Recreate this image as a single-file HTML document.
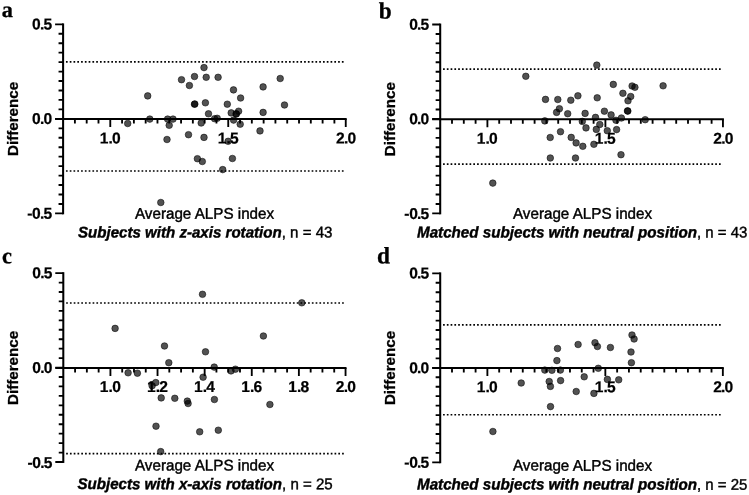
<!DOCTYPE html>
<html lang="en">
<head>
<meta charset="utf-8">
<title>Bland-Altman plots of ALPS index</title>
<style>
html,body{margin:0;padding:0;background:#fff;}
body{width:749px;height:495px;overflow:hidden;}
svg{display:block;}
text{fill:#000;}
</style>
</head>
<body>
<svg width="749" height="495" viewBox="0 0 749 495">
<rect width="749" height="495" fill="#fff"/>
<g id="panel-a">
<text transform="translate(1.70,17.00) rotate(0.03) scale(1.0,1.0)" font-weight="bold" font-family='"Liberation Serif", "Times New Roman", serif' font-size="22.3" stroke="#000" stroke-width="0.3">a</text>
<line x1="65.95" y1="61.8" x2="345.60" y2="61.8" stroke="#000" stroke-width="1.7" stroke-dasharray="1.7 2.08"/>
<line x1="65.95" y1="171.0" x2="345.60" y2="171.0" stroke="#000" stroke-width="1.7" stroke-dasharray="1.7 2.08"/>
<path d="M63.1,23.38V214.33" stroke="#000" stroke-width="2.05" fill="none"/>
<path d="M63.1,24.30h-8.0M63.1,33.76h-4.55M63.1,43.21h-4.55M63.1,52.66h-4.55M63.1,62.12h-4.55M63.1,71.58h-4.55M63.1,81.03h-4.55M63.1,90.48h-4.55M63.1,99.94h-4.55M63.1,109.39h-4.55M63.1,118.85h-8.0M63.1,128.31h-4.55M63.1,137.76h-4.55M63.1,147.22h-4.55M63.1,156.67h-4.55M63.1,166.12h-4.55M63.1,175.58h-4.55M63.1,185.03h-4.55M63.1,194.49h-4.55M63.1,203.95h-4.55M63.1,213.40h-8.0" stroke="#000" stroke-width="1.85" fill="none"/>
<path d="M55.1,118.9H346.70" stroke="#000" stroke-width="2.05" fill="none"/>
<path d="M74.90,118.9v4.55M86.69,118.9v4.55M98.49,118.9v4.55M110.28,118.9v8.0M122.08,118.9v4.55M133.88,118.9v4.55M145.67,118.9v4.55M157.47,118.9v4.55M169.26,118.9v4.55M181.06,118.9v4.55M192.85,118.9v4.55M204.65,118.9v4.55M216.45,118.9v4.55M228.24,118.9v8.0M240.04,118.9v4.55M251.83,118.9v4.55M263.63,118.9v4.55M275.43,118.9v4.55M287.22,118.9v4.55M299.02,118.9v4.55M310.81,118.9v4.55M322.61,118.9v4.55M334.40,118.9v4.55M345.75,118.9v8.0" stroke="#000" stroke-width="1.85" fill="none"/>
<circle cx="204.0" cy="67.6" r="3.3" fill="#000" fill-opacity="0.68" stroke="#000" stroke-opacity="0.74" stroke-width="0.7"/>
<circle cx="194.5" cy="76.5" r="3.3" fill="#000" fill-opacity="0.68" stroke="#000" stroke-opacity="0.74" stroke-width="0.7"/>
<circle cx="206.2" cy="77.3" r="3.3" fill="#000" fill-opacity="0.68" stroke="#000" stroke-opacity="0.74" stroke-width="0.7"/>
<circle cx="218.1" cy="77.3" r="3.3" fill="#000" fill-opacity="0.68" stroke="#000" stroke-opacity="0.74" stroke-width="0.7"/>
<circle cx="181.5" cy="79.7" r="3.3" fill="#000" fill-opacity="0.68" stroke="#000" stroke-opacity="0.74" stroke-width="0.7"/>
<circle cx="189.4" cy="85.5" r="3.3" fill="#000" fill-opacity="0.68" stroke="#000" stroke-opacity="0.74" stroke-width="0.7"/>
<circle cx="147.7" cy="95.9" r="3.3" fill="#000" fill-opacity="0.68" stroke="#000" stroke-opacity="0.74" stroke-width="0.7"/>
<circle cx="194.5" cy="104.2" r="3.3" fill="#000" fill-opacity="0.68" stroke="#000" stroke-opacity="0.74" stroke-width="0.7"/>
<circle cx="194.8" cy="104.0" r="3.3" fill="#000" fill-opacity="0.68" stroke="#000" stroke-opacity="0.74" stroke-width="0.7"/>
<circle cx="205.4" cy="102.8" r="3.3" fill="#000" fill-opacity="0.68" stroke="#000" stroke-opacity="0.74" stroke-width="0.7"/>
<circle cx="227.3" cy="104.2" r="3.3" fill="#000" fill-opacity="0.68" stroke="#000" stroke-opacity="0.74" stroke-width="0.7"/>
<circle cx="208.5" cy="113.8" r="3.3" fill="#000" fill-opacity="0.68" stroke="#000" stroke-opacity="0.74" stroke-width="0.7"/>
<circle cx="149.8" cy="119.1" r="3.3" fill="#000" fill-opacity="0.68" stroke="#000" stroke-opacity="0.74" stroke-width="0.7"/>
<circle cx="167.6" cy="119.1" r="3.3" fill="#000" fill-opacity="0.68" stroke="#000" stroke-opacity="0.74" stroke-width="0.7"/>
<circle cx="173.0" cy="119.1" r="3.3" fill="#000" fill-opacity="0.68" stroke="#000" stroke-opacity="0.74" stroke-width="0.7"/>
<circle cx="127.7" cy="123.5" r="3.3" fill="#000" fill-opacity="0.68" stroke="#000" stroke-opacity="0.74" stroke-width="0.7"/>
<circle cx="169.2" cy="125.3" r="3.3" fill="#000" fill-opacity="0.68" stroke="#000" stroke-opacity="0.74" stroke-width="0.7"/>
<circle cx="201.2" cy="123.0" r="3.3" fill="#000" fill-opacity="0.68" stroke="#000" stroke-opacity="0.74" stroke-width="0.7"/>
<circle cx="214.6" cy="118.7" r="3.3" fill="#000" fill-opacity="0.68" stroke="#000" stroke-opacity="0.74" stroke-width="0.7"/>
<circle cx="217.2" cy="118.3" r="3.3" fill="#000" fill-opacity="0.68" stroke="#000" stroke-opacity="0.74" stroke-width="0.7"/>
<circle cx="188.5" cy="134.7" r="3.3" fill="#000" fill-opacity="0.68" stroke="#000" stroke-opacity="0.74" stroke-width="0.7"/>
<circle cx="204.0" cy="137.4" r="3.3" fill="#000" fill-opacity="0.68" stroke="#000" stroke-opacity="0.74" stroke-width="0.7"/>
<circle cx="167.0" cy="139.5" r="3.3" fill="#000" fill-opacity="0.68" stroke="#000" stroke-opacity="0.74" stroke-width="0.7"/>
<circle cx="280.2" cy="78.5" r="3.3" fill="#000" fill-opacity="0.68" stroke="#000" stroke-opacity="0.74" stroke-width="0.7"/>
<circle cx="263.1" cy="86.9" r="3.3" fill="#000" fill-opacity="0.68" stroke="#000" stroke-opacity="0.74" stroke-width="0.7"/>
<circle cx="233.5" cy="89.9" r="3.3" fill="#000" fill-opacity="0.68" stroke="#000" stroke-opacity="0.74" stroke-width="0.7"/>
<circle cx="240.6" cy="98.0" r="3.3" fill="#000" fill-opacity="0.68" stroke="#000" stroke-opacity="0.74" stroke-width="0.7"/>
<circle cx="284.5" cy="105.0" r="3.3" fill="#000" fill-opacity="0.68" stroke="#000" stroke-opacity="0.74" stroke-width="0.7"/>
<circle cx="238.6" cy="111.2" r="3.3" fill="#000" fill-opacity="0.68" stroke="#000" stroke-opacity="0.74" stroke-width="0.7"/>
<circle cx="231.2" cy="112.9" r="3.3" fill="#000" fill-opacity="0.68" stroke="#000" stroke-opacity="0.74" stroke-width="0.7"/>
<circle cx="236.2" cy="113.8" r="3.3" fill="#000" fill-opacity="0.68" stroke="#000" stroke-opacity="0.74" stroke-width="0.7"/>
<circle cx="236.3" cy="114.0" r="3.3" fill="#000" fill-opacity="0.68" stroke="#000" stroke-opacity="0.74" stroke-width="0.7"/>
<circle cx="263.1" cy="112.4" r="3.3" fill="#000" fill-opacity="0.68" stroke="#000" stroke-opacity="0.74" stroke-width="0.7"/>
<circle cx="233.6" cy="120.1" r="3.3" fill="#000" fill-opacity="0.68" stroke="#000" stroke-opacity="0.74" stroke-width="0.7"/>
<circle cx="240.2" cy="124.2" r="3.3" fill="#000" fill-opacity="0.68" stroke="#000" stroke-opacity="0.74" stroke-width="0.7"/>
<circle cx="260.0" cy="130.9" r="3.3" fill="#000" fill-opacity="0.68" stroke="#000" stroke-opacity="0.74" stroke-width="0.7"/>
<circle cx="228.1" cy="141.3" r="3.3" fill="#000" fill-opacity="0.68" stroke="#000" stroke-opacity="0.74" stroke-width="0.7"/>
<circle cx="197.4" cy="158.7" r="3.3" fill="#000" fill-opacity="0.68" stroke="#000" stroke-opacity="0.74" stroke-width="0.7"/>
<circle cx="202.3" cy="161.5" r="3.3" fill="#000" fill-opacity="0.68" stroke="#000" stroke-opacity="0.74" stroke-width="0.7"/>
<circle cx="232.4" cy="158.5" r="3.3" fill="#000" fill-opacity="0.68" stroke="#000" stroke-opacity="0.74" stroke-width="0.7"/>
<circle cx="222.7" cy="169.6" r="3.3" fill="#000" fill-opacity="0.68" stroke="#000" stroke-opacity="0.74" stroke-width="0.7"/>
<circle cx="160.8" cy="202.5" r="3.3" fill="#000" fill-opacity="0.68" stroke="#000" stroke-opacity="0.74" stroke-width="0.7"/>
<text transform="translate(52.20,29.50) rotate(0.03) scale(1.04,1.05)" text-anchor="end" font-weight="bold" font-family='"Liberation Sans", Arial, Helvetica, sans-serif' font-size="15" stroke="#000" stroke-width="0.22" dx="0 -0.75 -0.75">0.5</text>
<text transform="translate(52.20,124.10) rotate(0.03) scale(1.04,1.05)" text-anchor="end" font-weight="bold" font-family='"Liberation Sans", Arial, Helvetica, sans-serif' font-size="15" stroke="#000" stroke-width="0.22" dx="0 -0.75 -0.75">0.0</text>
<text transform="translate(52.20,218.70) rotate(0.03) scale(1.04,1.05)" text-anchor="end" font-weight="bold" font-family='"Liberation Sans", Arial, Helvetica, sans-serif' font-size="15" stroke="#000" stroke-width="0.22" dx="0 -0.3 -0.75 -0.75">-0.5</text>
<text transform="translate(110.18,143.50) rotate(0.03) scale(1.04,1.05)" text-anchor="middle" font-weight="bold" font-family='"Liberation Sans", Arial, Helvetica, sans-serif' font-size="15" stroke="#000" stroke-width="0.22" dx="0 0.1 -0.75">1.0</text>
<text transform="translate(228.14,143.50) rotate(0.03) scale(1.04,1.05)" text-anchor="middle" font-weight="bold" font-family='"Liberation Sans", Arial, Helvetica, sans-serif' font-size="15" stroke="#000" stroke-width="0.22" dx="0 0.1 -0.75">1.5</text>
<text transform="translate(346.10,143.50) rotate(0.03) scale(1.04,1.05)" text-anchor="middle" font-weight="bold" font-family='"Liberation Sans", Arial, Helvetica, sans-serif' font-size="15" stroke="#000" stroke-width="0.22" dx="0 -0.75 -0.75">2.0</text>
<text transform="translate(17.80,118.90) rotate(-90) scale(1.014,0.96)" text-anchor="middle" font-weight="bold" font-family='"Liberation Sans", Arial, Helvetica, sans-serif' font-size="15" stroke="#000" stroke-width="0.32">Difference</text>
<text transform="translate(135.00,218.70) rotate(0.03) scale(1.0,1.02)" font-family='"Liberation Sans", Arial, Helvetica, sans-serif' font-size="15.2" stroke="#000" stroke-width="0.4">Average ALPS index</text>
<text transform="translate(78.00,237.40) rotate(0.03) scale(1.0,1.03)" font-family='"Liberation Sans", Arial, Helvetica, sans-serif' font-size="15.1" stroke="#000" stroke-width="0.4"><tspan font-weight="bold" font-style="italic" font-size="15.1">Subjects with z-axis rotation</tspan>, n = 43</text>
</g>
<g id="panel-b">
<text transform="translate(378.70,18.50) rotate(0.03) scale(1.0,1.0)" font-weight="bold" font-family='"Liberation Serif", "Times New Roman", serif' font-size="23.3" stroke="#000" stroke-width="0.3">b</text>
<line x1="443.05" y1="69.2" x2="722.80" y2="69.2" stroke="#000" stroke-width="1.7" stroke-dasharray="1.7 2.08"/>
<line x1="443.05" y1="164.1" x2="722.80" y2="164.1" stroke="#000" stroke-width="1.7" stroke-dasharray="1.7 2.08"/>
<path d="M440.2,23.57V214.33" stroke="#000" stroke-width="2.05" fill="none"/>
<path d="M440.2,24.50h-8.0M440.2,33.95h-4.55M440.2,43.39h-4.55M440.2,52.84h-4.55M440.2,62.28h-4.55M440.2,71.72h-4.55M440.2,81.17h-4.55M440.2,90.61h-4.55M440.2,100.06h-4.55M440.2,109.51h-4.55M440.2,118.95h-8.0M440.2,128.40h-4.55M440.2,137.84h-4.55M440.2,147.29h-4.55M440.2,156.73h-4.55M440.2,166.18h-4.55M440.2,175.62h-4.55M440.2,185.06h-4.55M440.2,194.51h-4.55M440.2,203.95h-4.55M440.2,213.40h-8.0" stroke="#000" stroke-width="1.85" fill="none"/>
<path d="M432.2,119.15H723.90" stroke="#000" stroke-width="2.05" fill="none"/>
<path d="M452.00,119.15v4.55M463.80,119.15v4.55M475.60,119.15v4.55M487.40,119.15v8.0M499.20,119.15v4.55M511.00,119.15v4.55M522.80,119.15v4.55M534.60,119.15v4.55M546.40,119.15v4.55M558.20,119.15v4.55M570.00,119.15v4.55M581.80,119.15v4.55M593.60,119.15v4.55M605.40,119.15v8.0M617.20,119.15v4.55M629.00,119.15v4.55M640.80,119.15v4.55M652.60,119.15v4.55M664.40,119.15v4.55M676.20,119.15v4.55M688.00,119.15v4.55M699.80,119.15v4.55M711.60,119.15v4.55M722.95,119.15v8.0" stroke="#000" stroke-width="1.85" fill="none"/>
<circle cx="596.8" cy="65.1" r="3.3" fill="#000" fill-opacity="0.68" stroke="#000" stroke-opacity="0.74" stroke-width="0.7"/>
<circle cx="525.8" cy="76.3" r="3.3" fill="#000" fill-opacity="0.68" stroke="#000" stroke-opacity="0.74" stroke-width="0.7"/>
<circle cx="613.3" cy="84.4" r="3.3" fill="#000" fill-opacity="0.68" stroke="#000" stroke-opacity="0.74" stroke-width="0.7"/>
<circle cx="632.1" cy="86.0" r="3.3" fill="#000" fill-opacity="0.68" stroke="#000" stroke-opacity="0.74" stroke-width="0.7"/>
<circle cx="634.9" cy="87.3" r="3.3" fill="#000" fill-opacity="0.68" stroke="#000" stroke-opacity="0.74" stroke-width="0.7"/>
<circle cx="663.1" cy="85.8" r="3.3" fill="#000" fill-opacity="0.68" stroke="#000" stroke-opacity="0.74" stroke-width="0.7"/>
<circle cx="622.9" cy="93.3" r="3.3" fill="#000" fill-opacity="0.68" stroke="#000" stroke-opacity="0.74" stroke-width="0.7"/>
<circle cx="630.7" cy="96.5" r="3.3" fill="#000" fill-opacity="0.68" stroke="#000" stroke-opacity="0.74" stroke-width="0.7"/>
<circle cx="628.0" cy="100.8" r="3.3" fill="#000" fill-opacity="0.68" stroke="#000" stroke-opacity="0.74" stroke-width="0.7"/>
<circle cx="577.9" cy="95.8" r="3.3" fill="#000" fill-opacity="0.68" stroke="#000" stroke-opacity="0.74" stroke-width="0.7"/>
<circle cx="597.2" cy="97.8" r="3.3" fill="#000" fill-opacity="0.68" stroke="#000" stroke-opacity="0.74" stroke-width="0.7"/>
<circle cx="545.5" cy="99.4" r="3.3" fill="#000" fill-opacity="0.68" stroke="#000" stroke-opacity="0.74" stroke-width="0.7"/>
<circle cx="557.8" cy="99.5" r="3.3" fill="#000" fill-opacity="0.68" stroke="#000" stroke-opacity="0.74" stroke-width="0.7"/>
<circle cx="570.8" cy="100.2" r="3.3" fill="#000" fill-opacity="0.68" stroke="#000" stroke-opacity="0.74" stroke-width="0.7"/>
<circle cx="559.4" cy="108.7" r="3.3" fill="#000" fill-opacity="0.68" stroke="#000" stroke-opacity="0.74" stroke-width="0.7"/>
<circle cx="556.6" cy="112.4" r="3.3" fill="#000" fill-opacity="0.68" stroke="#000" stroke-opacity="0.74" stroke-width="0.7"/>
<circle cx="567.7" cy="113.7" r="3.3" fill="#000" fill-opacity="0.68" stroke="#000" stroke-opacity="0.74" stroke-width="0.7"/>
<circle cx="585.1" cy="113.4" r="3.3" fill="#000" fill-opacity="0.68" stroke="#000" stroke-opacity="0.74" stroke-width="0.7"/>
<circle cx="604.4" cy="111.2" r="3.3" fill="#000" fill-opacity="0.68" stroke="#000" stroke-opacity="0.74" stroke-width="0.7"/>
<circle cx="627.5" cy="110.9" r="3.3" fill="#000" fill-opacity="0.68" stroke="#000" stroke-opacity="0.74" stroke-width="0.7"/>
<circle cx="627.8" cy="111.1" r="3.3" fill="#000" fill-opacity="0.68" stroke="#000" stroke-opacity="0.74" stroke-width="0.7"/>
<circle cx="611.1" cy="114.9" r="3.3" fill="#000" fill-opacity="0.68" stroke="#000" stroke-opacity="0.74" stroke-width="0.7"/>
<circle cx="621.4" cy="118.0" r="3.3" fill="#000" fill-opacity="0.68" stroke="#000" stroke-opacity="0.74" stroke-width="0.7"/>
<circle cx="595.5" cy="117.4" r="3.3" fill="#000" fill-opacity="0.68" stroke="#000" stroke-opacity="0.74" stroke-width="0.7"/>
<circle cx="544.8" cy="120.9" r="3.3" fill="#000" fill-opacity="0.68" stroke="#000" stroke-opacity="0.74" stroke-width="0.7"/>
<circle cx="582.3" cy="121.4" r="3.3" fill="#000" fill-opacity="0.68" stroke="#000" stroke-opacity="0.74" stroke-width="0.7"/>
<circle cx="616.0" cy="120.3" r="3.3" fill="#000" fill-opacity="0.68" stroke="#000" stroke-opacity="0.74" stroke-width="0.7"/>
<circle cx="645.2" cy="119.7" r="3.3" fill="#000" fill-opacity="0.68" stroke="#000" stroke-opacity="0.74" stroke-width="0.7"/>
<circle cx="599.8" cy="124.5" r="3.3" fill="#000" fill-opacity="0.68" stroke="#000" stroke-opacity="0.74" stroke-width="0.7"/>
<circle cx="586.0" cy="127.9" r="3.3" fill="#000" fill-opacity="0.68" stroke="#000" stroke-opacity="0.74" stroke-width="0.7"/>
<circle cx="596.3" cy="129.4" r="3.3" fill="#000" fill-opacity="0.68" stroke="#000" stroke-opacity="0.74" stroke-width="0.7"/>
<circle cx="607.3" cy="130.7" r="3.3" fill="#000" fill-opacity="0.68" stroke="#000" stroke-opacity="0.74" stroke-width="0.7"/>
<circle cx="616.6" cy="129.6" r="3.3" fill="#000" fill-opacity="0.68" stroke="#000" stroke-opacity="0.74" stroke-width="0.7"/>
<circle cx="560.5" cy="131.7" r="3.3" fill="#000" fill-opacity="0.68" stroke="#000" stroke-opacity="0.74" stroke-width="0.7"/>
<circle cx="550.2" cy="137.5" r="3.3" fill="#000" fill-opacity="0.68" stroke="#000" stroke-opacity="0.74" stroke-width="0.7"/>
<circle cx="571.2" cy="137.4" r="3.3" fill="#000" fill-opacity="0.68" stroke="#000" stroke-opacity="0.74" stroke-width="0.7"/>
<circle cx="576.1" cy="142.9" r="3.3" fill="#000" fill-opacity="0.68" stroke="#000" stroke-opacity="0.74" stroke-width="0.7"/>
<circle cx="582.8" cy="146.3" r="3.3" fill="#000" fill-opacity="0.68" stroke="#000" stroke-opacity="0.74" stroke-width="0.7"/>
<circle cx="593.9" cy="144.3" r="3.3" fill="#000" fill-opacity="0.68" stroke="#000" stroke-opacity="0.74" stroke-width="0.7"/>
<circle cx="550.3" cy="158.0" r="3.3" fill="#000" fill-opacity="0.68" stroke="#000" stroke-opacity="0.74" stroke-width="0.7"/>
<circle cx="575.5" cy="158.0" r="3.3" fill="#000" fill-opacity="0.68" stroke="#000" stroke-opacity="0.74" stroke-width="0.7"/>
<circle cx="621.0" cy="154.7" r="3.3" fill="#000" fill-opacity="0.68" stroke="#000" stroke-opacity="0.74" stroke-width="0.7"/>
<circle cx="492.8" cy="183.1" r="3.3" fill="#000" fill-opacity="0.68" stroke="#000" stroke-opacity="0.74" stroke-width="0.7"/>
<text transform="translate(429.30,29.70) rotate(0.03) scale(1.04,1.05)" text-anchor="end" font-weight="bold" font-family='"Liberation Sans", Arial, Helvetica, sans-serif' font-size="15" stroke="#000" stroke-width="0.22" dx="0 -0.75 -0.75">0.5</text>
<text transform="translate(429.30,124.35) rotate(0.03) scale(1.04,1.05)" text-anchor="end" font-weight="bold" font-family='"Liberation Sans", Arial, Helvetica, sans-serif' font-size="15" stroke="#000" stroke-width="0.22" dx="0 -0.75 -0.75">0.0</text>
<text transform="translate(429.30,219.00) rotate(0.03) scale(1.04,1.05)" text-anchor="end" font-weight="bold" font-family='"Liberation Sans", Arial, Helvetica, sans-serif' font-size="15" stroke="#000" stroke-width="0.22" dx="0 -0.3 -0.75 -0.75">-0.5</text>
<text transform="translate(487.30,143.75) rotate(0.03) scale(1.04,1.05)" text-anchor="middle" font-weight="bold" font-family='"Liberation Sans", Arial, Helvetica, sans-serif' font-size="15" stroke="#000" stroke-width="0.22" dx="0 0.1 -0.75">1.0</text>
<text transform="translate(605.30,143.75) rotate(0.03) scale(1.04,1.05)" text-anchor="middle" font-weight="bold" font-family='"Liberation Sans", Arial, Helvetica, sans-serif' font-size="15" stroke="#000" stroke-width="0.22" dx="0 0.1 -0.75">1.5</text>
<text transform="translate(723.30,143.75) rotate(0.03) scale(1.04,1.05)" text-anchor="middle" font-weight="bold" font-family='"Liberation Sans", Arial, Helvetica, sans-serif' font-size="15" stroke="#000" stroke-width="0.22" dx="0 -0.75 -0.75">2.0</text>
<text transform="translate(394.90,119.15) rotate(-90) scale(1.014,0.96)" text-anchor="middle" font-weight="bold" font-family='"Liberation Sans", Arial, Helvetica, sans-serif' font-size="15" stroke="#000" stroke-width="0.32">Difference</text>
<text transform="translate(513.00,218.70) rotate(0.03) scale(1.0,1.02)" font-family='"Liberation Sans", Arial, Helvetica, sans-serif' font-size="15.2" stroke="#000" stroke-width="0.4">Average ALPS index</text>
<text transform="translate(417.00,237.40) rotate(0.03) scale(1.0,1.03)" font-family='"Liberation Sans", Arial, Helvetica, sans-serif' font-size="15.0" stroke="#000" stroke-width="0.4"><tspan font-weight="bold" font-style="italic" font-size="15.2">Matched subjects with neutral position</tspan>, n = 43</text>
</g>
<g id="panel-c">
<text transform="translate(1.90,263.20) rotate(0.03) scale(1.0,1.0)" font-weight="bold" font-family='"Liberation Serif", "Times New Roman", serif' font-size="22.3" stroke="#000" stroke-width="0.3">c</text>
<line x1="66.15" y1="303.0" x2="345.40" y2="303.0" stroke="#000" stroke-width="1.7" stroke-dasharray="1.7 2.08"/>
<line x1="66.15" y1="453.7" x2="345.40" y2="453.7" stroke="#000" stroke-width="1.7" stroke-dasharray="1.7 2.08"/>
<path d="M63.3,272.18V462.93" stroke="#000" stroke-width="2.05" fill="none"/>
<path d="M63.3,273.10h-8.0M63.3,282.55h-4.55M63.3,291.99h-4.55M63.3,301.44h-4.55M63.3,310.88h-4.55M63.3,320.33h-4.55M63.3,329.77h-4.55M63.3,339.22h-4.55M63.3,348.66h-4.55M63.3,358.11h-4.55M63.3,367.55h-8.0M63.3,377.00h-4.55M63.3,386.44h-4.55M63.3,395.88h-4.55M63.3,405.33h-4.55M63.3,414.77h-4.55M63.3,424.22h-4.55M63.3,433.67h-4.55M63.3,443.11h-4.55M63.3,452.56h-4.55M63.3,462.00h-8.0" stroke="#000" stroke-width="1.85" fill="none"/>
<path d="M55.3,367.9H346.50" stroke="#000" stroke-width="2.05" fill="none"/>
<path d="M75.08,367.9v4.55M86.86,367.9v4.55M98.64,367.9v4.55M110.42,367.9v8.0M122.20,367.9v4.55M133.98,367.9v4.55M145.75,367.9v4.55M157.53,367.9v8.0M169.31,367.9v4.55M181.09,367.9v4.55M192.87,367.9v4.55M204.65,367.9v8.0M216.43,367.9v4.55M228.21,367.9v4.55M239.99,367.9v4.55M251.77,367.9v8.0M263.55,367.9v4.55M275.33,367.9v4.55M287.10,367.9v4.55M298.88,367.9v8.0M310.66,367.9v4.55M322.44,367.9v4.55M334.22,367.9v4.55M345.55,367.9v8.0" stroke="#000" stroke-width="1.85" fill="none"/>
<circle cx="202.5" cy="294.3" r="3.3" fill="#000" fill-opacity="0.68" stroke="#000" stroke-opacity="0.74" stroke-width="0.7"/>
<circle cx="301.8" cy="302.8" r="3.3" fill="#000" fill-opacity="0.68" stroke="#000" stroke-opacity="0.74" stroke-width="0.7"/>
<circle cx="115.1" cy="328.4" r="3.3" fill="#000" fill-opacity="0.68" stroke="#000" stroke-opacity="0.74" stroke-width="0.7"/>
<circle cx="263.4" cy="336.0" r="3.3" fill="#000" fill-opacity="0.68" stroke="#000" stroke-opacity="0.74" stroke-width="0.7"/>
<circle cx="164.5" cy="346.0" r="3.3" fill="#000" fill-opacity="0.68" stroke="#000" stroke-opacity="0.74" stroke-width="0.7"/>
<circle cx="205.5" cy="351.8" r="3.3" fill="#000" fill-opacity="0.68" stroke="#000" stroke-opacity="0.74" stroke-width="0.7"/>
<circle cx="168.8" cy="362.7" r="3.3" fill="#000" fill-opacity="0.68" stroke="#000" stroke-opacity="0.74" stroke-width="0.7"/>
<circle cx="214.2" cy="367.1" r="3.3" fill="#000" fill-opacity="0.68" stroke="#000" stroke-opacity="0.74" stroke-width="0.7"/>
<circle cx="128.1" cy="372.8" r="3.3" fill="#000" fill-opacity="0.68" stroke="#000" stroke-opacity="0.74" stroke-width="0.7"/>
<circle cx="137.4" cy="373.2" r="3.3" fill="#000" fill-opacity="0.68" stroke="#000" stroke-opacity="0.74" stroke-width="0.7"/>
<circle cx="231.0" cy="370.9" r="3.3" fill="#000" fill-opacity="0.68" stroke="#000" stroke-opacity="0.74" stroke-width="0.7"/>
<circle cx="235.4" cy="369.2" r="3.3" fill="#000" fill-opacity="0.68" stroke="#000" stroke-opacity="0.74" stroke-width="0.7"/>
<circle cx="203.1" cy="377.2" r="3.3" fill="#000" fill-opacity="0.68" stroke="#000" stroke-opacity="0.74" stroke-width="0.7"/>
<circle cx="155.8" cy="382.6" r="3.3" fill="#000" fill-opacity="0.68" stroke="#000" stroke-opacity="0.74" stroke-width="0.7"/>
<circle cx="152.1" cy="385.7" r="3.3" fill="#000" fill-opacity="0.68" stroke="#000" stroke-opacity="0.74" stroke-width="0.7"/>
<circle cx="161.2" cy="397.9" r="3.3" fill="#000" fill-opacity="0.68" stroke="#000" stroke-opacity="0.74" stroke-width="0.7"/>
<circle cx="174.8" cy="398.3" r="3.3" fill="#000" fill-opacity="0.68" stroke="#000" stroke-opacity="0.74" stroke-width="0.7"/>
<circle cx="187.3" cy="401.1" r="3.3" fill="#000" fill-opacity="0.68" stroke="#000" stroke-opacity="0.74" stroke-width="0.7"/>
<circle cx="188.1" cy="403.5" r="3.3" fill="#000" fill-opacity="0.68" stroke="#000" stroke-opacity="0.74" stroke-width="0.7"/>
<circle cx="214.4" cy="399.5" r="3.3" fill="#000" fill-opacity="0.68" stroke="#000" stroke-opacity="0.74" stroke-width="0.7"/>
<circle cx="269.9" cy="404.5" r="3.3" fill="#000" fill-opacity="0.68" stroke="#000" stroke-opacity="0.74" stroke-width="0.7"/>
<circle cx="156.0" cy="426.2" r="3.3" fill="#000" fill-opacity="0.68" stroke="#000" stroke-opacity="0.74" stroke-width="0.7"/>
<circle cx="199.7" cy="431.8" r="3.3" fill="#000" fill-opacity="0.68" stroke="#000" stroke-opacity="0.74" stroke-width="0.7"/>
<circle cx="218.3" cy="430.2" r="3.3" fill="#000" fill-opacity="0.68" stroke="#000" stroke-opacity="0.74" stroke-width="0.7"/>
<circle cx="160.7" cy="451.6" r="3.3" fill="#000" fill-opacity="0.68" stroke="#000" stroke-opacity="0.74" stroke-width="0.7"/>
<text transform="translate(52.40,278.30) rotate(0.03) scale(1.04,1.05)" text-anchor="end" font-weight="bold" font-family='"Liberation Sans", Arial, Helvetica, sans-serif' font-size="15" stroke="#000" stroke-width="0.22" dx="0 -0.75 -0.75">0.5</text>
<text transform="translate(52.40,373.10) rotate(0.03) scale(1.04,1.05)" text-anchor="end" font-weight="bold" font-family='"Liberation Sans", Arial, Helvetica, sans-serif' font-size="15" stroke="#000" stroke-width="0.22" dx="0 -0.75 -0.75">0.0</text>
<text transform="translate(52.40,467.90) rotate(0.03) scale(1.04,1.05)" text-anchor="end" font-weight="bold" font-family='"Liberation Sans", Arial, Helvetica, sans-serif' font-size="15" stroke="#000" stroke-width="0.22" dx="0 -0.3 -0.75 -0.75">-0.5</text>
<text transform="translate(110.32,392.10) rotate(0.03) scale(1.04,1.05)" text-anchor="middle" font-weight="bold" font-family='"Liberation Sans", Arial, Helvetica, sans-serif' font-size="15" stroke="#000" stroke-width="0.22" dx="0 0.1 -0.75">1.0</text>
<text transform="translate(157.43,392.10) rotate(0.03) scale(1.04,1.05)" text-anchor="middle" font-weight="bold" font-family='"Liberation Sans", Arial, Helvetica, sans-serif' font-size="15" stroke="#000" stroke-width="0.22" dx="0 0.1 -0.75">1.2</text>
<text transform="translate(204.55,392.10) rotate(0.03) scale(1.04,1.05)" text-anchor="middle" font-weight="bold" font-family='"Liberation Sans", Arial, Helvetica, sans-serif' font-size="15" stroke="#000" stroke-width="0.22" dx="0 0.1 -0.75">1.4</text>
<text transform="translate(251.67,392.10) rotate(0.03) scale(1.04,1.05)" text-anchor="middle" font-weight="bold" font-family='"Liberation Sans", Arial, Helvetica, sans-serif' font-size="15" stroke="#000" stroke-width="0.22" dx="0 0.1 -0.75">1.6</text>
<text transform="translate(298.78,392.10) rotate(0.03) scale(1.04,1.05)" text-anchor="middle" font-weight="bold" font-family='"Liberation Sans", Arial, Helvetica, sans-serif' font-size="15" stroke="#000" stroke-width="0.22" dx="0 0.1 -0.75">1.8</text>
<text transform="translate(345.90,392.10) rotate(0.03) scale(1.04,1.05)" text-anchor="middle" font-weight="bold" font-family='"Liberation Sans", Arial, Helvetica, sans-serif' font-size="15" stroke="#000" stroke-width="0.22" dx="0 -0.75 -0.75">2.0</text>
<text transform="translate(18.00,367.90) rotate(-90) scale(1.014,0.96)" text-anchor="middle" font-weight="bold" font-family='"Liberation Sans", Arial, Helvetica, sans-serif' font-size="15" stroke="#000" stroke-width="0.32">Difference</text>
<text transform="translate(135.00,470.50) rotate(0.03) scale(1.0,1.02)" font-family='"Liberation Sans", Arial, Helvetica, sans-serif' font-size="15.2" stroke="#000" stroke-width="0.4">Average ALPS index</text>
<text transform="translate(77.50,489.10) rotate(0.03) scale(1.0,1.03)" font-family='"Liberation Sans", Arial, Helvetica, sans-serif' font-size="15.1" stroke="#000" stroke-width="0.4"><tspan font-weight="bold" font-style="italic" font-size="15.1">Subjects with x-axis rotation</tspan>, n = 25</text>
</g>
<g id="panel-d">
<text transform="translate(377.00,263.30) rotate(0.03) scale(1.0,1.0)" font-weight="bold" font-family='"Liberation Serif", "Times New Roman", serif' font-size="23.3" stroke="#000" stroke-width="0.3">d</text>
<line x1="443.05" y1="324.8" x2="722.70" y2="324.8" stroke="#000" stroke-width="1.7" stroke-dasharray="1.7 2.08"/>
<line x1="443.05" y1="414.75" x2="722.70" y2="414.75" stroke="#000" stroke-width="1.7" stroke-dasharray="1.7 2.08"/>
<path d="M440.2,272.38V463.23" stroke="#000" stroke-width="2.05" fill="none"/>
<path d="M440.2,273.30h-8.0M440.2,282.75h-4.55M440.2,292.20h-4.55M440.2,301.65h-4.55M440.2,311.10h-4.55M440.2,320.55h-4.55M440.2,330.00h-4.55M440.2,339.45h-4.55M440.2,348.90h-4.55M440.2,358.35h-4.55M440.2,367.80h-8.0M440.2,377.25h-4.55M440.2,386.70h-4.55M440.2,396.15h-4.55M440.2,405.60h-4.55M440.2,415.05h-4.55M440.2,424.50h-4.55M440.2,433.95h-4.55M440.2,443.40h-4.55M440.2,452.85h-4.55M440.2,462.30h-8.0" stroke="#000" stroke-width="1.85" fill="none"/>
<path d="M432.2,367.95H723.80" stroke="#000" stroke-width="2.05" fill="none"/>
<path d="M452.00,367.95v4.55M463.79,367.95v4.55M475.59,367.95v4.55M487.38,367.95v8.0M499.18,367.95v4.55M510.98,367.95v4.55M522.77,367.95v4.55M534.57,367.95v4.55M546.36,367.95v4.55M558.16,367.95v4.55M569.95,367.95v4.55M581.75,367.95v4.55M593.55,367.95v4.55M605.34,367.95v8.0M617.14,367.95v4.55M628.93,367.95v4.55M640.73,367.95v4.55M652.52,367.95v4.55M664.32,367.95v4.55M676.12,367.95v4.55M687.91,367.95v4.55M699.71,367.95v4.55M711.50,367.95v4.55M722.85,367.95v8.0" stroke="#000" stroke-width="1.85" fill="none"/>
<circle cx="557.5" cy="348.5" r="3.3" fill="#000" fill-opacity="0.68" stroke="#000" stroke-opacity="0.74" stroke-width="0.7"/>
<circle cx="578.1" cy="344.5" r="3.3" fill="#000" fill-opacity="0.68" stroke="#000" stroke-opacity="0.74" stroke-width="0.7"/>
<circle cx="595.0" cy="342.7" r="3.3" fill="#000" fill-opacity="0.68" stroke="#000" stroke-opacity="0.74" stroke-width="0.7"/>
<circle cx="597.4" cy="346.5" r="3.3" fill="#000" fill-opacity="0.68" stroke="#000" stroke-opacity="0.74" stroke-width="0.7"/>
<circle cx="610.4" cy="347.5" r="3.3" fill="#000" fill-opacity="0.68" stroke="#000" stroke-opacity="0.74" stroke-width="0.7"/>
<circle cx="556.9" cy="360.6" r="3.3" fill="#000" fill-opacity="0.68" stroke="#000" stroke-opacity="0.74" stroke-width="0.7"/>
<circle cx="544.8" cy="370.1" r="3.3" fill="#000" fill-opacity="0.68" stroke="#000" stroke-opacity="0.74" stroke-width="0.7"/>
<circle cx="551.9" cy="370.3" r="3.3" fill="#000" fill-opacity="0.68" stroke="#000" stroke-opacity="0.74" stroke-width="0.7"/>
<circle cx="560.4" cy="370.1" r="3.3" fill="#000" fill-opacity="0.68" stroke="#000" stroke-opacity="0.74" stroke-width="0.7"/>
<circle cx="598.3" cy="368.3" r="3.3" fill="#000" fill-opacity="0.68" stroke="#000" stroke-opacity="0.74" stroke-width="0.7"/>
<circle cx="521.2" cy="383.0" r="3.3" fill="#000" fill-opacity="0.68" stroke="#000" stroke-opacity="0.74" stroke-width="0.7"/>
<circle cx="549.2" cy="381.5" r="3.3" fill="#000" fill-opacity="0.68" stroke="#000" stroke-opacity="0.74" stroke-width="0.7"/>
<circle cx="560.6" cy="380.6" r="3.3" fill="#000" fill-opacity="0.68" stroke="#000" stroke-opacity="0.74" stroke-width="0.7"/>
<circle cx="550.4" cy="386.4" r="3.3" fill="#000" fill-opacity="0.68" stroke="#000" stroke-opacity="0.74" stroke-width="0.7"/>
<circle cx="584.2" cy="376.8" r="3.3" fill="#000" fill-opacity="0.68" stroke="#000" stroke-opacity="0.74" stroke-width="0.7"/>
<circle cx="576.2" cy="391.5" r="3.3" fill="#000" fill-opacity="0.68" stroke="#000" stroke-opacity="0.74" stroke-width="0.7"/>
<circle cx="593.9" cy="393.4" r="3.3" fill="#000" fill-opacity="0.68" stroke="#000" stroke-opacity="0.74" stroke-width="0.7"/>
<circle cx="607.4" cy="379.4" r="3.3" fill="#000" fill-opacity="0.68" stroke="#000" stroke-opacity="0.74" stroke-width="0.7"/>
<circle cx="618.7" cy="379.8" r="3.3" fill="#000" fill-opacity="0.68" stroke="#000" stroke-opacity="0.74" stroke-width="0.7"/>
<circle cx="632.0" cy="335.0" r="3.3" fill="#000" fill-opacity="0.68" stroke="#000" stroke-opacity="0.74" stroke-width="0.7"/>
<circle cx="634.1" cy="339.0" r="3.3" fill="#000" fill-opacity="0.68" stroke="#000" stroke-opacity="0.74" stroke-width="0.7"/>
<circle cx="631.0" cy="352.0" r="3.3" fill="#000" fill-opacity="0.68" stroke="#000" stroke-opacity="0.74" stroke-width="0.7"/>
<circle cx="631.4" cy="362.7" r="3.3" fill="#000" fill-opacity="0.68" stroke="#000" stroke-opacity="0.74" stroke-width="0.7"/>
<circle cx="550.5" cy="406.6" r="3.3" fill="#000" fill-opacity="0.68" stroke="#000" stroke-opacity="0.74" stroke-width="0.7"/>
<circle cx="492.9" cy="431.5" r="3.3" fill="#000" fill-opacity="0.68" stroke="#000" stroke-opacity="0.74" stroke-width="0.7"/>
<text transform="translate(429.30,278.50) rotate(0.03) scale(1.04,1.05)" text-anchor="end" font-weight="bold" font-family='"Liberation Sans", Arial, Helvetica, sans-serif' font-size="15" stroke="#000" stroke-width="0.22" dx="0 -0.75 -0.75">0.5</text>
<text transform="translate(429.30,373.15) rotate(0.03) scale(1.04,1.05)" text-anchor="end" font-weight="bold" font-family='"Liberation Sans", Arial, Helvetica, sans-serif' font-size="15" stroke="#000" stroke-width="0.22" dx="0 -0.75 -0.75">0.0</text>
<text transform="translate(429.30,467.80) rotate(0.03) scale(1.04,1.05)" text-anchor="end" font-weight="bold" font-family='"Liberation Sans", Arial, Helvetica, sans-serif' font-size="15" stroke="#000" stroke-width="0.22" dx="0 -0.3 -0.75 -0.75">-0.5</text>
<text transform="translate(487.28,392.15) rotate(0.03) scale(1.04,1.05)" text-anchor="middle" font-weight="bold" font-family='"Liberation Sans", Arial, Helvetica, sans-serif' font-size="15" stroke="#000" stroke-width="0.22" dx="0 0.1 -0.75">1.0</text>
<text transform="translate(605.24,392.15) rotate(0.03) scale(1.04,1.05)" text-anchor="middle" font-weight="bold" font-family='"Liberation Sans", Arial, Helvetica, sans-serif' font-size="15" stroke="#000" stroke-width="0.22" dx="0 0.1 -0.75">1.5</text>
<text transform="translate(723.20,392.15) rotate(0.03) scale(1.04,1.05)" text-anchor="middle" font-weight="bold" font-family='"Liberation Sans", Arial, Helvetica, sans-serif' font-size="15" stroke="#000" stroke-width="0.22" dx="0 -0.75 -0.75">2.0</text>
<text transform="translate(394.90,367.95) rotate(-90) scale(1.014,0.96)" text-anchor="middle" font-weight="bold" font-family='"Liberation Sans", Arial, Helvetica, sans-serif' font-size="15" stroke="#000" stroke-width="0.32">Difference</text>
<text transform="translate(513.00,470.60) rotate(0.03) scale(1.0,1.02)" font-family='"Liberation Sans", Arial, Helvetica, sans-serif' font-size="15.2" stroke="#000" stroke-width="0.4">Average ALPS index</text>
<text transform="translate(417.00,489.50) rotate(0.03) scale(1.0,1.03)" font-family='"Liberation Sans", Arial, Helvetica, sans-serif' font-size="15.0" stroke="#000" stroke-width="0.4"><tspan font-weight="bold" font-style="italic" font-size="15.2">Matched subjects with neutral position</tspan>, n = 25</text>
</g>
</svg>
</body>
</html>
